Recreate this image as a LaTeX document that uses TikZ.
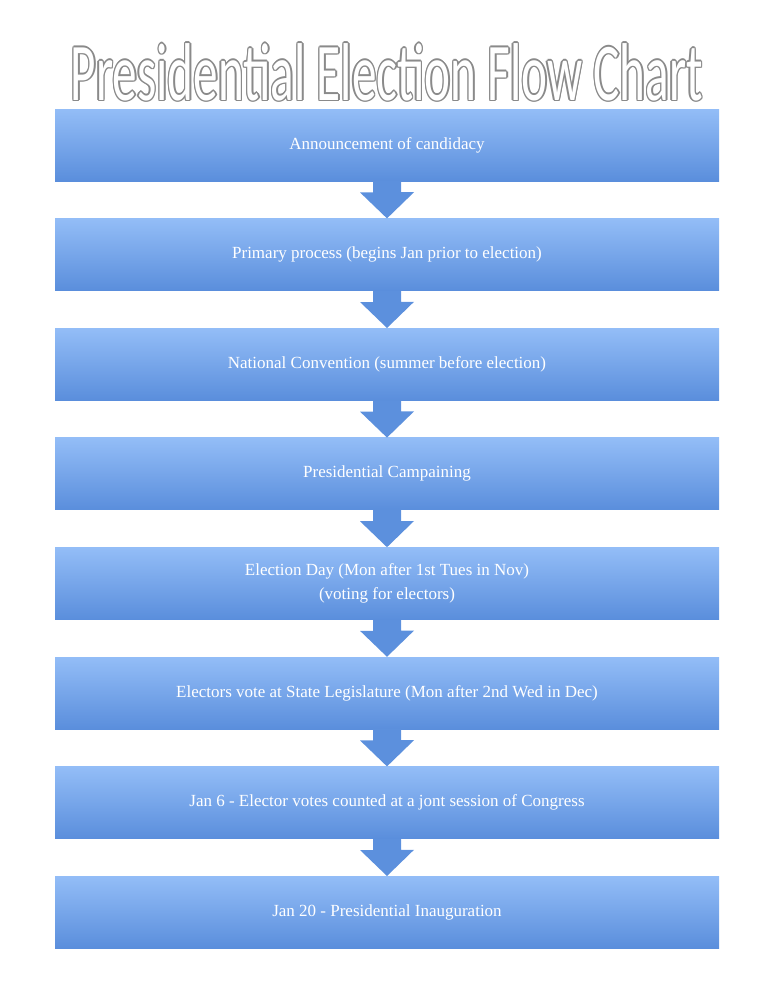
\documentclass[tikz,border=0pt]{standalone}
\usepackage{fontspec}
\setmainfont{Liberation Serif}
\newfontfamily\titlefont{Carlito}
\usetikzlibrary{positioning}

\definecolor{boxtop}{HTML}{93BDF7}
\definecolor{boxbot}{HTML}{5A8EDC}
\definecolor{arrowblue}{HTML}{5C90DD}
\definecolor{outline}{HTML}{8A8A8A}
\tikzset
 { step box/.style={minimum width=664pt, minimum height=72pt, inner sep=0pt,
     top color=boxtop, bottom color=boxbot, draw=none, text=white,
     font=\fontsize{17}{24}\selectfont, align=center}
 , step arrow/.style={fill=arrowblue, draw=none}
 }

\newcommand{\flowtitle}[1]{\scalebox{0.6}[1]{\titlefont\fontsize{82}{82}\selectfont #1}}

\begin{document}
\begin{tikzpicture}[x=1pt, y=-1pt, node distance=37.2pt]
  \useasboundingbox (0,0) rectangle (768,994);
  % title with grey outline
  \foreach \dx/\dy in {-1.5/0,1.5/0,0/-1.5,0/1.5,-1/-1,1/1,-1/1,1/-1}
    \node[text=outline] at (387+\dx,72+\dy) {\flowtitle{Presidential Election Flow Chart}};
  \node[text=white] (title) at (387,72) {\flowtitle{Presidential Election Flow Chart}};
  % steps
  \node[step box] (s1) at (387,145) {Announcement of candidacy};
  \node[step box, below=of s1] (s2) {Primary process (begins Jan prior to election)};
  \node[step box, below=of s2] (s3) {National Convention (summer before election)};
  \node[step box, below=of s3] (s4) {Presidential Campaining};
  \node[step box, below=of s4] (s5) {Election Day (Mon after 1st Tues in Nov)\\(voting for electors)};
  \node[step box, below=of s5] (s6) {Electors vote at State Legislature (Mon after 2nd Wed in Dec)};
  \node[step box, below=of s6] (s7) {Jan 6 - Elector votes counted at a jont session of Congress};
  \node[step box, below=of s7] (s8) {Jan 20 - Presidential Inauguration};
  % arrows between steps
  \foreach \i [evaluate=\i as \j using int(\i+1)] in {1,...,7}
    \fill[step arrow] ([xshift=-14pt]s\i.south) -- ([xshift=14pt]s\i.south)
      -- ++(0,11) -- ++(13,0) -- (s\j.north) -- ++(-27,-26) -- ++(13,0) -- cycle;
\end{tikzpicture}
\end{document}
